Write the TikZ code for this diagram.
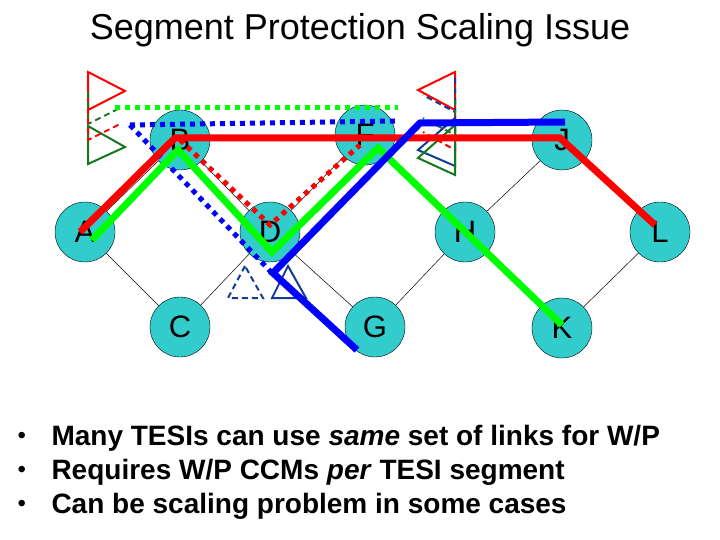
\documentclass[tikz,border=0pt]{standalone}
\usepackage{fontspec}
\setmainfont{Liberation Sans}
\begin{document}
\begin{tikzpicture}[x=1pt,y=-1pt,
  nd/.style={circle,draw=black,fill=ncyan,minimum size=60pt,inner sep=0pt,font=\fontsize{31}{33}\selectfont},
  ln/.style={line width=0.5pt},
  sol/.style={line width=7pt},
  dot/.style={line width=5pt,dash pattern=on 5pt off 5pt},
  tri/.style={line width=2pt},
  dtri/.style={line width=2pt,dash pattern=on 6pt off 4pt},
  txt/.style={anchor=west,font=\fontsize{28}{30}\selectfont\bfseries}]
\useasboundingbox (0,0) rectangle (720,540);
\definecolor{ncyan}{RGB}{51,204,204}
\definecolor{tgreen}{RGB}{20,120,30}
\definecolor{tblue}{RGB}{20,60,150}
\node at (360,30) {\fontsize{36}{38}\selectfont Segment Protection Scaling Issue};
% nodes
\node[nd] (A) at (85,232) {A};
\node[nd] (B) at (180,140) {B};
\node[nd] (C) at (180,327) {C};
\node[nd] (D) at (270,232) {D};
\node[nd] (F) at (365,135) {F};
\node[nd] (G) at (375,327) {G};
\node[nd] (H) at (465,232) {H};
\node[nd] (J) at (562,140) {J};
\node[nd] (K) at (562,328) {K};
\node[nd] (L) at (660,232) {L};
\draw[ln] (A)--(B) (A)--(C) (B)--(D) (C)--(D) (D)--(F) (D)--(G)
  (F)--(H) (G)--(H) (H)--(J) (H)--(K) (J)--(L) (K)--(L);
% triangles left
\draw[tri,red] (88,72)--(88,110)--(125,91)--cycle;
\draw[tri,tgreen] (88,126)--(88,164)--(125,147)--cycle;
\draw[dtri,tgreen] (88,92)--(88,124)--(120,108);
\draw[dtri,red] (88,108)--(88,140)--(120,124);
% triangles right
\draw[tri,red] (455,72)--(455,110)--(418,90)--cycle;
\draw[dtri,tblue] (455,78)--(455,112)--(423,95);
\draw[dtri,tgreen] (455,100)--(455,135)--(423,118);
\draw[dtri,red] (455,115)--(455,150)--(423,132);
\draw[tri,tblue] (455,118)--(455,166)--(418,150)--cycle;
\draw[tri,tgreen] (455,125)--(455,175)--(418,158)--cycle;
% triangles bottom
\draw[dtri,tblue] (245,266)--(228,298)--(263,298)--cycle;
\draw[tri,tblue] (288,266)--(272,298)--(306,298)--cycle;
% paths
\draw[dot,green] (115,108)--(398,108);
\draw[dot,blue] (130,125)--(395,121);
\draw[dot,blue] (130,125)--(272,273);
\draw[dot,red] (180,140)--(270,225)--(360,145);
\draw[sol,red] (80,232)--(175,138)--(560,138)--(655,225);
\draw[sol,green] (92,240)--(178,150)--(272,252)--(378,148)--(562,325);
\draw[sol,blue] (357,350)--(273,273)--(420,123)--(565,122);
% bullets
\foreach \y in {438,472,506} \node[anchor=west,font=\fontsize{24}{26}\selectfont] at (14,\y) {•};
\node[txt] at (48,438) {Many TESIs can use \textit{same} set of links for W/P};
\node[txt] at (48,472) {Requires W/P CCMs \textit{per} TESI segment};
\node[txt] at (48,506) {Can be scaling problem in some cases};
\end{tikzpicture}
\end{document}
